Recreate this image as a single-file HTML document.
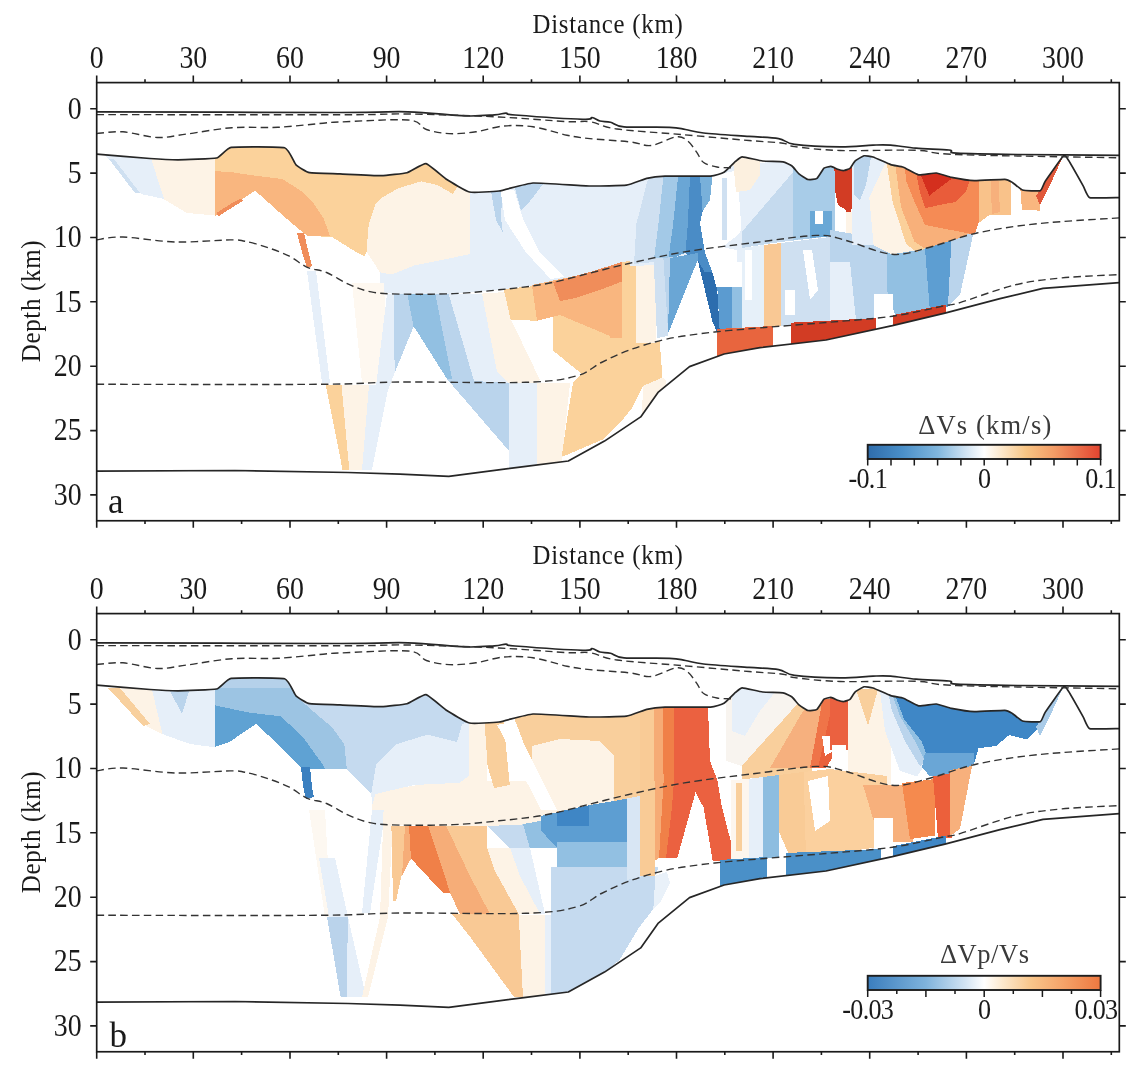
<!DOCTYPE html>
<html><head><meta charset="utf-8"><style>html,body{margin:0;padding:0;background:#fff}svg{display:block}</style></head>
<body><svg width="1144" height="1074" viewBox="0 0 1144 1074">
<rect width="1144" height="1074" fill="#fff"/>
<g><defs><clipPath id="clipa"><path d="M96.7,154.1C100.3,154.4 144.6,158.1 150.0,158.5C155.4,158.9 173.6,159.8 178.0,159.8C182.4,159.8 213.0,158.8 216.5,158.0C220.0,157.2 226.7,148.0 231.2,147.3C235.7,146.6 280.3,146.5 284.6,147.7C288.9,148.9 294.3,163.1 296.0,164.8C297.7,166.5 306.7,172.1 309.6,172.7C312.5,173.3 335.2,173.7 340.0,173.9C344.8,174.1 376.5,175.8 381.0,175.7C385.5,175.6 404.0,173.5 407.0,172.7C410.0,171.9 423.3,163.1 426.0,163.6C428.7,164.1 443.9,177.6 446.8,179.5C449.7,181.4 466.0,191.2 469.5,192.0C473.0,192.8 494.8,191.6 499.0,191.0C503.2,190.4 526.9,183.3 533.0,183.0C539.1,182.7 583.8,185.9 590.0,186.0C596.2,186.1 622.6,185.7 626.4,185.2C630.2,184.7 644.2,179.0 646.8,178.4C649.4,177.8 660.8,176.3 665.0,176.1C669.2,175.9 706.6,176.4 710.5,176.1C714.4,175.8 722.3,173.3 724.0,172.3C725.7,171.3 734.3,162.4 735.5,161.4C736.7,160.4 740.5,156.8 742.3,156.8C744.1,156.8 760.0,160.7 762.7,161.0C765.4,161.3 781.0,161.5 783.0,161.8C785.0,162.1 790.9,165.2 792.0,166.0C793.1,166.8 797.9,173.0 799.0,173.9C800.1,174.8 806.8,179.2 808.0,179.5C809.2,179.8 815.9,179.2 817.0,178.4C818.1,177.6 823.1,169.0 824.0,168.2C824.9,167.4 830.1,166.3 831.0,166.4C831.9,166.5 836.8,169.0 837.7,169.3C838.6,169.6 843.2,170.6 844.0,170.5C844.8,170.4 849.3,169.0 850.0,168.4C850.7,167.8 854.3,161.6 855.2,160.8C856.1,160.0 862.8,156.1 864.0,155.8C865.2,155.5 871.2,156.4 873.0,157.0C874.8,157.6 888.7,163.9 890.7,164.6C892.7,165.3 901.5,166.5 903.4,167.2C905.3,167.9 916.4,174.4 918.6,174.8C920.8,175.2 934.1,172.8 936.3,173.0C938.5,173.2 949.0,176.8 951.5,177.3C954.0,177.8 970.7,180.5 974.3,180.6C977.9,180.7 1002.3,179.2 1004.8,179.3C1007.3,179.4 1011.2,181.7 1012.4,182.4C1013.6,183.1 1020.6,189.4 1022.5,190.0C1024.4,190.6 1038.8,191.3 1040.3,190.7C1041.8,190.1 1043.8,183.4 1045.3,181.1C1046.8,178.8 1061.6,157.9 1063.0,156.3C1064.4,154.7 1066.6,157.7 1066.9,157.8L1066.9,285.0L1043.0,288.3C1043.0,288.3 1000.0,298.6 1000.0,298.6C1000.0,298.6 944.9,313.1 944.9,313.1C944.9,313.1 892.4,325.7 892.4,325.7C892.4,325.7 826.0,340.0 826.0,340.0C826.0,340.0 760.0,347.7 760.0,347.7C760.0,347.7 724.1,354.0 724.1,354.0C724.1,354.0 689.5,366.6 689.5,366.6C689.5,366.6 658.0,392.4 658.0,392.4C658.0,392.4 640.7,416.9 640.7,416.9C640.7,416.9 604.5,441.1 604.5,441.1C604.5,441.1 568.3,461.0 568.3,461.0C568.3,461.0 525.9,466.3 525.9,466.3C525.9,466.3 448.8,476.4 448.8,476.4C448.8,476.4 400.0,474.2 400.0,474.2C400.0,474.2 348.0,472.5 348.0,472.5C348.0,472.5 235.0,470.5 235.0,470.5C235.0,470.5 96.7,471.2 96.7,471.2Z"/></clipPath>
<linearGradient id="grada" x1="0" x2="1" y1="0" y2="0">
<stop offset="0" stop-color="#2e6cab"/>
<stop offset="0.15" stop-color="#4a8fc8"/>
<stop offset="0.3" stop-color="#80b6dd"/>
<stop offset="0.42" stop-color="#cfe2f2"/>
<stop offset="0.5" stop-color="#ffffff"/>
<stop offset="0.58" stop-color="#fce6c8"/>
<stop offset="0.68" stop-color="#f8c584"/>
<stop offset="0.8" stop-color="#f39c66"/>
<stop offset="1" stop-color="#e2432f"/>
</linearGradient></defs>
<g clip-path="url(#clipa)" shape-rendering="crispEdges">
<polygon fill="#e6eff9" points="100.0,150.0 148.3,150.0 166.5,199.5 141.0,194.0"/>
<polygon fill="#cfe0f1" points="109.0,159.0 114.0,159.0 140.0,193.0 135.0,193.0"/>
<polygon fill="#fdf3e6" points="148.3,150.0 178.0,150.0 214.5,150.0 214.5,215.5 187.0,213.0 164.2,199.5"/>
<polygon fill="#fbd29b" points="214.5,140.0 458.0,140.0 458.0,186.0 452.8,193.9 436.9,184.8 421.0,181.4 398.3,188.2 382.4,197.3 375.5,204.1 368.7,224.5 366.5,251.8 364.2,256.4 356.0,252.0 332.0,237.0 307.4,235.9 296.0,226.8 277.8,210.9 255.0,190.5 241.5,199.5 232.4,205.2 216.5,215.5 214.5,215.5"/>
<polygon fill="#f9b67f" points="214.5,171.1 232.4,172.3 255.0,175.7 282.4,179.1 300.5,190.5 314.2,204.1 323.3,217.7 330.0,236.0 307.4,235.9 296.0,226.8 277.8,210.9 255.0,190.5 241.5,199.5 232.4,205.2 216.5,215.5 214.5,215.5"/>
<polygon fill="#f08d5a" points="216.5,213.0 232.0,203.0 241.0,198.5 243.0,201.0 233.0,207.0 218.0,216.5"/>
<polygon fill="#f08d5a" points="297.0,233.0 304.0,233.0 308.0,250.0 312.0,266.0 307.0,268.0 302.0,252.0"/>
<polygon fill="#fdf3e6" points="375.5,204.1 382.4,197.3 398.3,188.2 421.0,181.4 436.9,184.8 452.8,193.9 458.0,186.0 470.0,186.0 470.0,254.1 448.3,258.6 414.2,265.5 391.5,274.5 380.0,272.3 366.5,251.8 368.7,224.5"/>
<polygon fill="#e6eff9" points="469.5,180.0 650.0,170.0 650.0,265.0 627.8,263.7 590.0,273.1 544.5,284.1 499.0,289.8 453.6,293.6 392.3,293.9 380.0,291.0 380.0,272.3 391.5,274.5 414.2,265.5 448.3,258.6 470.0,254.1"/>
<polygon fill="#bad4ec" points="490.8,190.0 505.1,190.0 500.5,213.2 502.8,232.5 496.0,220.0"/>
<polygon fill="#bad4ec" points="514.2,185.0 546.0,180.0 527.8,204.1 521.0,210.9"/>
<polygon fill="#ffffff" points="500.5,190.0 514.2,190.0 523.3,220.0 539.2,251.8 564.2,276.8 550.5,279.0 525.5,251.8 505.0,220.0"/>
<polygon fill="#e6eff9" points="307.0,271.0 316.0,271.0 330.0,383.0 322.0,383.0"/>
<polygon fill="#fef8f0" points="352.0,283.0 384.0,283.0 388.0,383.0 362.0,383.0"/>
<polygon fill="#fbd29b" points="325.8,385.3 341.5,385.3 349.3,470.0 342.6,470.0"/>
<polygon fill="#fdf3e6" points="341.5,385.3 369.0,385.3 362.0,470.0 349.3,470.0"/>
<polygon fill="#e6eff9" points="369.0,385.3 388.0,385.3 372.0,470.0 362.0,470.0"/>
<polygon fill="#e6eff9" points="387.0,294.0 396.0,294.0 394.7,372.8 388.0,390.0 372.0,470.0 366.0,470.0"/>
<polygon fill="#bad4ec" points="393.6,294.0 407.3,294.0 413.6,326.6 394.7,372.8"/>
<polygon fill="#92c0e2" points="407.3,294.0 421.0,294.0 421.0,320.0 413.6,327.0"/>
<polygon fill="#6aa8d6" points="420.0,294.0 423.0,294.0 423.0,330.0 420.0,330.0"/>
<polygon fill="#92c0e2" points="421.0,294.0 435.3,294.0 452.0,379.0 447.0,379.0 413.5,326.0"/>
<polygon fill="#bad4ec" points="435.3,294.0 448.7,294.0 474.0,381.0 509.0,383.0 509.0,451.0 447.0,379.0 452.0,379.0"/>
<polygon fill="#e6eff9" points="448.7,294.0 482.0,293.6 497.0,371.9 508.7,383.0 536.6,383.0 536.6,470.0 509.0,470.0 509.0,383.0 474.0,381.0"/>
<polygon fill="#fdf3e6" points="482.0,293.6 505.0,292.0 510.7,318.9 540.0,380.0 536.6,383.0 570.0,383.0 565.0,430.0 562.0,462.0 536.6,465.0 536.6,383.0 508.7,383.0 497.0,371.9"/>
<polygon fill="#ffffff" points="510.7,318.9 556.7,315.4 553.2,350.7 581.5,373.7 573.0,383.0 540.0,380.0"/>
<polygon fill="#fbd29b" points="503.7,289.0 535.0,286.0 537.0,320.7 510.7,320.0"/>
<polygon fill="#fbd29b" points="553.0,315.0 626.0,300.0 626.0,341.0 659.7,341.0 662.5,377.5 643.0,385.9 631.7,408.3 620.6,422.2 603.8,439.0 564.6,455.8 561.8,455.8 567.4,416.6 573.0,383.0 581.5,373.7 553.2,350.7"/>
<polygon fill="#f9b67f" points="532.0,285.0 622.0,266.0 622.0,334.6 610.0,336.0 560.0,315.0 537.0,320.7"/>
<polygon fill="#f9b67f" points="610.0,300.0 622.0,300.0 622.0,338.0 610.0,338.0"/>
<polygon fill="#f08d5a" points="553.0,282.0 590.0,272.0 622.0,262.0 622.0,281.5 600.0,290.0 575.0,298.0 560.0,301.0"/>
<polygon fill="#fbd29b" points="622.0,262.0 636.0,260.0 636.0,343.0 622.0,343.0"/>
<polygon fill="#fdf3e6" points="636.0,258.0 655.6,256.0 655.6,343.0 636.0,343.0"/>
<polygon fill="#fdf3e6" points="662.5,377.5 666.0,380.0 666.0,470.0 640.0,470.0 643.0,385.9"/>
<polygon fill="#e6eff9" points="630.0,170.0 745.0,165.0 745.0,262.0 630.0,266.0"/>
<polygon fill="#cfe0f1" points="648.7,176.0 663.4,176.0 658.5,223.4 653.6,262.0 634.0,264.0 636.5,223.4"/>
<polygon fill="#a3c9e7" points="663.4,176.0 678.1,176.0 673.2,223.4 668.3,260.0 653.6,262.0 658.5,223.4"/>
<polygon fill="#6aa6d5" points="678.1,176.0 690.0,176.0 687.9,223.4 685.4,252.8 668.3,260.0 673.2,223.4"/>
<polygon fill="#4a8cc6" points="690.0,176.0 700.0,176.0 702.6,211.2 700.1,223.4 705.0,252.8 712.4,272.4 705.0,272.4 697.7,260.1 690.0,258.0 685.4,252.8 687.9,223.4"/>
<polygon fill="#78b0da" points="700.0,176.0 712.4,176.0 710.0,200.0 702.6,211.2"/>
<polygon fill="#ffffff" points="712.4,176.0 738.0,170.0 741.7,230.0 736.8,236.0 722.2,247.0 736.8,250.0 736.8,287.0 717.3,287.0 712.4,272.4 705.0,252.8 700.1,223.4 702.6,211.2 710.0,200.0"/>
<polygon fill="#cfe0f1" points="722.2,178.0 727.0,178.0 727.0,240.0 722.2,240.0"/>
<polygon fill="#e6eff9" points="736.8,165.0 793.1,160.0 793.1,172.0 741.7,232.0"/>
<polygon fill="#fcf0df" points="732.0,150.0 760.0,150.0 760.0,175.0 750.0,190.0 736.0,192.0"/>
<polygon fill="#c5daee" points="741.7,232.0 793.1,172.0 834.7,160.0 834.7,236.0 780.0,242.0 741.7,248.0"/>
<polygon fill="#a8cce8" points="793.1,165.0 834.7,160.0 834.7,236.0 793.1,240.0"/>
<polygon fill="#6aa8d6" points="810.3,211.0 832.3,211.0 832.3,236.0 810.3,238.0"/>
<polygon fill="#ffffff" points="815.2,211.0 822.5,211.0 822.5,224.0 815.2,224.0"/>
<polygon fill="#cfe0f1" points="653.6,258.0 663.4,258.0 668.3,336.0 657.0,338.0"/>
<polygon fill="#bad4ec" points="663.4,258.0 673.2,257.0 670.0,300.0 668.3,336.0"/>
<polygon fill="#6aa6d5" points="670.0,258.0 698.0,253.0 697.7,260.1 672.0,325.0 668.0,333.0"/>
<polygon fill="#ffffff" points="697.7,260.1 712.4,321.3 717.3,333.0 668.3,333.0"/>
<polygon fill="#2c6dae" points="697.7,260.1 705.0,272.4 712.4,272.4 717.3,290.0 719.7,331.0 717.3,333.0 712.4,321.3"/>
<polygon fill="#5b9bd0" points="717.3,287.0 732.0,287.0 732.0,330.0 719.7,331.0"/>
<polygon fill="#92c0e2" points="732.0,287.0 741.7,287.0 741.7,329.0 732.0,330.0"/>
<polygon fill="#e6f0f9" points="741.7,248.0 763.8,245.0 763.8,328.0 741.7,329.0"/>
<polygon fill="#ffffff" points="745.0,250.0 752.0,250.0 752.0,300.0 745.0,300.0"/>
<polygon fill="#f9c894" points="763.8,245.0 780.9,243.0 780.9,326.0 763.8,328.0"/>
<polygon fill="#cfe0f1" points="780.9,243.0 829.8,237.0 829.8,322.0 780.9,326.0"/>
<polygon fill="#ffffff" points="803.0,250.0 812.0,250.0 818.0,290.0 810.0,300.0"/>
<polygon fill="#ffffff" points="785.0,290.0 795.0,290.0 795.0,315.0 785.0,315.0"/>
<polygon fill="#d23c24" points="834.4,166.0 852.0,166.0 852.0,190.0 851.0,228.0 847.0,228.0 846.0,210.0 838.0,205.0 835.0,190.0"/>
<polygon fill="#fdf3e6" points="846.0,212.0 852.0,212.0 856.0,237.0 846.0,237.0"/>
<polygon fill="#bad4ec" points="830.0,230.0 891.0,240.0 891.0,318.0 830.0,322.0"/>
<polygon fill="#e6eff9" points="830.0,262.0 850.0,262.0 856.0,320.0 830.0,322.0"/>
<polygon fill="#92c0e2" points="887.0,240.0 924.0,236.0 930.0,312.0 896.0,318.0 887.0,290.0"/>
<polygon fill="#5d9ed2" points="924.0,236.0 955.0,230.0 950.0,306.0 930.0,312.0"/>
<polygon fill="#bad4ec" points="952.0,230.0 975.0,226.0 960.0,295.0 948.0,306.0"/>
<polygon fill="#ffffff" points="873.7,293.6 893.4,293.6 893.4,320.0 873.7,320.0"/>
<polygon fill="#e6eff9" points="852.0,150.0 895.0,150.0 895.0,245.0 852.0,245.0"/>
<polygon fill="#bad4ec" points="854.0,155.0 872.0,152.0 866.0,185.0 860.0,200.0 854.0,195.0"/>
<polygon fill="#fdf3e6" points="869.3,197.4 886.8,160.0 892.6,202.0 906.2,244.0 916.7,250.2 892.0,254.3 873.7,245.5"/>
<polygon fill="#fbd09a" points="886.3,160.0 894.7,160.0 901.0,207.2 914.6,241.8 924.0,246.0 925.0,248.5 916.7,252.0 906.2,244.0 892.6,202.0"/>
<polygon fill="#f8b07a" points="894.7,160.0 904.1,160.0 906.2,181.0 914.6,202.0 925.1,225.0 969.2,233.5 960.0,238.0 953.5,239.7 930.0,247.2 924.0,248.0 914.6,241.8 901.0,207.2"/>
<polygon fill="#f58b55" points="904.1,160.0 978.6,165.0 978.6,223.0 975.0,234.0 969.2,233.5 925.1,225.0 914.6,202.0 906.2,181.0"/>
<polygon fill="#e95c3a" points="914.6,165.0 953.5,170.0 969.2,174.0 969.2,182.0 966.0,191.5 955.6,202.0 938.8,205.1 925.1,208.3 919.9,191.5"/>
<polygon fill="#d42f1e" points="917.8,168.0 938.8,168.0 951.4,174.0 951.4,178.9 929.3,195.7"/>
<polygon fill="#f9c28a" points="978.6,170.0 1011.4,170.0 1011.4,214.6 990.0,214.6 978.6,223.0"/>
<polygon fill="#f7b07c" points="990.0,170.0 998.0,170.0 1000.0,212.0 992.0,214.0"/>
<polygon fill="#f9b67f" points="1020.0,185.0 1040.0,185.0 1040.0,210.6 1022.0,210.0"/>
<polygon fill="#e0583a" points="1036.0,196.0 1055.0,167.0 1062.0,150.0 1066.0,150.0 1050.0,185.0 1040.0,205.0"/>
<polygon fill="#e8653e" points="717.0,329.0 772.7,326.0 772.7,360.0 717.0,360.0"/>
<polygon fill="#d23c24" points="791.0,322.7 876.0,318.0 876.0,345.0 791.0,345.0"/>
<polygon fill="#d23c24" points="893.0,315.0 946.0,304.5 946.0,314.0 893.0,327.0"/>
</g>
<g fill="none" stroke="#262626" stroke-width="1.7" stroke-linejoin="round">
<path d="M96.7,111.8C137.2,111.9 288.1,112.5 340.0,112.5C391.9,112.5 387.2,111.2 408.0,111.8C428.8,112.4 450.6,115.4 465.0,115.9C479.4,116.4 487.7,115.2 494.5,114.8C501.3,114.3 502.6,113.2 506.0,113.2C509.4,113.2 502.2,114.0 515.0,115.0C527.8,116.0 570.2,118.9 583.0,119.3C595.8,119.7 589.2,117.2 592.0,117.5C594.8,117.8 596.9,120.2 600.0,121.0C603.1,121.8 606.5,121.3 610.5,122.3C614.5,123.3 614.2,126.0 624.0,126.8C633.8,127.6 659.2,126.8 669.5,127.3C679.8,127.8 679.8,128.6 685.5,129.5C691.2,130.4 693.0,131.8 703.6,133.0C714.2,134.2 736.5,135.5 749.0,136.4C761.5,137.3 771.0,137.3 778.6,138.6C786.2,139.9 784.3,142.9 794.5,144.3C804.7,145.7 826.9,146.8 840.0,146.9C853.1,147.0 864.5,145.4 873.0,145.1C881.5,144.8 883.5,144.6 890.7,145.1C897.9,145.6 906.3,147.4 916.0,148.2C925.7,149.0 942.2,149.2 949.0,150.0C955.8,150.8 945.2,152.4 956.6,153.2C968.0,153.9 990.3,154.2 1017.4,154.5C1044.5,154.8 1102.3,155.2 1119.3,155.3"/>
<path d="M96.7,154.1C100.3,154.4 144.6,158.1 150.0,158.5C155.4,158.9 173.6,159.8 178.0,159.8C182.4,159.8 213.0,158.8 216.5,158.0C220.0,157.2 226.7,148.0 231.2,147.3C235.7,146.6 280.3,146.5 284.6,147.7C288.9,148.9 294.3,163.1 296.0,164.8C297.7,166.5 306.7,172.1 309.6,172.7C312.5,173.3 335.2,173.7 340.0,173.9C344.8,174.1 376.5,175.8 381.0,175.7C385.5,175.6 404.0,173.5 407.0,172.7C410.0,171.9 423.3,163.1 426.0,163.6C428.7,164.1 443.9,177.6 446.8,179.5C449.7,181.4 466.0,191.2 469.5,192.0C473.0,192.8 494.8,191.6 499.0,191.0C503.2,190.4 526.9,183.3 533.0,183.0C539.1,182.7 583.8,185.9 590.0,186.0C596.2,186.1 622.6,185.7 626.4,185.2C630.2,184.7 644.2,179.0 646.8,178.4C649.4,177.8 660.8,176.3 665.0,176.1C669.2,175.9 706.6,176.4 710.5,176.1C714.4,175.8 722.3,173.3 724.0,172.3C725.7,171.3 734.3,162.4 735.5,161.4C736.7,160.4 740.5,156.8 742.3,156.8C744.1,156.8 760.0,160.7 762.7,161.0C765.4,161.3 781.0,161.5 783.0,161.8C785.0,162.1 790.9,165.2 792.0,166.0C793.1,166.8 797.9,173.0 799.0,173.9C800.1,174.8 806.8,179.2 808.0,179.5C809.2,179.8 815.9,179.2 817.0,178.4C818.1,177.6 823.1,169.0 824.0,168.2C824.9,167.4 830.1,166.3 831.0,166.4C831.9,166.5 836.8,169.0 837.7,169.3C838.6,169.6 843.2,170.6 844.0,170.5C844.8,170.4 849.3,169.0 850.0,168.4C850.7,167.8 854.3,161.6 855.2,160.8C856.1,160.0 862.8,156.1 864.0,155.8C865.2,155.5 871.2,156.4 873.0,157.0C874.8,157.6 888.7,163.9 890.7,164.6C892.7,165.3 901.5,166.5 903.4,167.2C905.3,167.9 916.4,174.4 918.6,174.8C920.8,175.2 934.1,172.8 936.3,173.0C938.5,173.2 949.0,176.8 951.5,177.3C954.0,177.8 970.7,180.5 974.3,180.6C977.9,180.7 1002.3,179.2 1004.8,179.3C1007.3,179.4 1011.2,181.7 1012.4,182.4C1013.6,183.1 1020.6,189.4 1022.5,190.0C1024.4,190.6 1038.8,191.3 1040.3,190.7C1041.8,190.1 1043.8,183.4 1045.3,181.1C1046.8,178.8 1061.6,157.9 1063.0,156.3C1064.4,154.7 1065.5,155.8 1066.9,157.8C1068.3,159.8 1081.8,183.5 1083.3,186.2C1084.8,188.9 1087.3,196.8 1089.7,197.6C1092.1,198.4 1117.3,197.6 1119.3,197.6"/>
<path d="M96.7,471.2C96.7,471.2 235.0,470.5 235.0,470.5C235.0,470.5 348.0,472.5 348.0,472.5C348.0,472.5 400.0,474.2 400.0,474.2C400.0,474.2 448.8,476.4 448.8,476.4C448.8,476.4 525.9,466.3 525.9,466.3C525.9,466.3 568.3,461.0 568.3,461.0C568.3,461.0 604.5,441.1 604.5,441.1C604.5,441.1 640.7,416.9 640.7,416.9C640.7,416.9 658.0,392.4 658.0,392.4C658.0,392.4 689.5,366.6 689.5,366.6C689.5,366.6 724.1,354.0 724.1,354.0C724.1,354.0 760.0,347.7 760.0,347.7C760.0,347.7 826.0,340.0 826.0,340.0C826.0,340.0 892.4,325.7 892.4,325.7C892.4,325.7 944.9,313.1 944.9,313.1C944.9,313.1 1000.0,298.6 1000.0,298.6C1000.0,298.6 1043.0,288.3 1043.0,288.3C1043.0,288.3 1119.3,282.6 1119.3,282.6"/>
</g>
<g fill="none" stroke="#333" stroke-width="1.4" stroke-dasharray="7.5 4.3">
<path d="M96.7,114.6C137.2,114.6 288.1,114.9 340.0,114.8C391.9,114.7 381.5,113.6 408.0,114.0C434.5,114.4 472.5,115.7 499.0,117.0C525.5,118.3 551.8,120.8 567.0,121.6C582.2,122.4 581.7,120.6 590.0,121.8C598.3,123.0 601.8,126.9 617.0,129.0C632.2,131.1 659.0,132.6 681.0,134.5C703.0,136.4 732.0,139.1 749.0,140.5C766.0,141.9 775.4,142.2 783.0,143.2C790.6,144.2 785.0,145.4 794.5,146.6C804.0,147.8 819.8,149.9 840.0,150.5C860.2,151.1 896.6,149.6 916.0,150.3C935.4,151.0 922.7,153.2 956.6,154.5C990.5,155.8 1092.2,157.2 1119.3,157.8"/>
<path d="M96.7,133.6C101.1,133.3 112.9,131.2 123.0,131.8C133.1,132.5 146.7,137.1 157.4,137.5C168.1,137.9 174.6,135.6 187.0,134.0C199.4,132.4 216.8,128.8 232.0,127.7C247.2,126.6 262.8,128.1 278.0,127.3C293.2,126.5 312.7,124.1 323.0,123.2C333.3,122.3 325.8,122.5 340.0,122.0C354.2,121.5 393.6,118.8 408.0,120.0C422.4,121.2 419.6,127.2 426.4,129.5C433.2,131.8 440.7,133.2 449.0,133.6C457.3,134.0 466.9,133.1 476.0,131.8C485.1,130.5 494.1,126.8 503.6,126.0C513.1,125.2 522.4,125.3 533.0,126.8C543.6,128.3 557.5,133.2 567.0,135.2C576.5,137.2 579.3,137.5 590.0,138.6C600.7,139.7 620.8,140.8 631.0,142.0C641.2,143.2 643.8,146.4 651.4,145.5C659.0,144.6 670.3,137.6 676.4,136.8C682.5,136.1 684.3,138.4 687.7,141.0C691.1,143.6 694.1,148.7 696.8,152.3C699.4,155.9 700.2,160.1 703.6,162.5C707.0,164.9 712.4,166.1 717.0,167.0C721.6,167.9 728.7,167.6 731.0,167.7"/>
<path d="M96.7,239.8C101.1,239.3 109.9,236.6 123.0,237.0C136.1,237.4 157.7,241.5 175.5,242.0C193.3,242.5 218.4,240.0 230.0,239.9C241.6,239.8 238.7,240.1 244.9,241.3C251.1,242.5 259.7,244.8 267.1,247.3C274.5,249.8 282.7,252.9 289.4,256.2C296.1,259.5 301.1,264.6 307.3,267.3C313.5,270.0 319.7,269.6 326.6,272.5C333.5,275.4 341.5,281.2 348.9,284.4C356.3,287.6 362.7,290.3 371.2,291.9C379.7,293.5 386.3,293.8 400.0,294.1C413.7,294.4 437.1,294.3 453.6,293.6C470.1,292.9 483.9,291.4 499.0,289.8C514.1,288.2 529.3,286.9 544.5,284.1C559.7,281.3 576.1,276.5 590.0,273.1C603.9,269.7 612.1,267.2 627.8,263.7C643.5,260.2 663.2,255.4 684.4,251.9C705.6,248.4 733.2,245.2 755.2,242.5C777.2,239.8 801.6,235.8 816.5,235.4C831.4,235.0 832.2,236.9 844.8,240.1C857.4,243.2 877.8,253.1 892.0,254.3C906.2,255.5 915.6,250.8 929.8,247.2C944.0,243.6 958.9,236.9 977.0,233.0C995.1,229.1 1014.6,226.1 1038.3,223.6C1062.0,221.1 1105.8,218.8 1119.3,217.9"/>
<path d="M96.7,384.3C133.9,384.3 269.2,384.7 319.8,384.3C370.4,383.9 365.6,382.3 400.0,382.0C434.4,381.7 496.5,383.3 525.9,382.3C555.3,381.3 563.6,379.3 576.2,376.0C588.8,372.7 592.5,366.9 601.4,362.5C610.3,358.1 618.7,353.8 629.7,349.9C640.7,346.0 653.3,341.9 667.5,338.9C681.7,335.9 699.3,333.8 714.7,332.0C730.1,330.2 741.5,329.5 760.0,327.9C778.5,326.3 803.9,324.4 826.0,322.5C848.1,320.6 872.6,319.0 892.4,316.2C912.2,313.4 933.6,308.0 944.9,305.7C956.2,303.4 948.4,306.1 960.0,302.6C971.6,299.2 997.7,289.1 1014.7,285.0C1031.7,280.9 1044.5,279.6 1061.9,277.9C1079.3,276.2 1109.7,275.2 1119.3,274.6"/>
</g>
<rect x="96.7" y="82.6" width="1022.5999999999999" height="438.15" fill="none" stroke="#1a1a1a" stroke-width="1.7"/>
<path d="M96.7,82.6v-7 M96.7,520.75v7 M145.0,82.6v-3.3 M145.0,520.75v3.3 M193.3,82.6v-7 M193.3,520.75v7 M241.6,82.6v-3.3 M241.6,520.75v3.3 M290.0,82.6v-7 M290.0,520.75v7 M338.3,82.6v-3.3 M338.3,520.75v3.3 M386.6,82.6v-7 M386.6,520.75v7 M434.9,82.6v-3.3 M434.9,520.75v3.3 M483.2,82.6v-7 M483.2,520.75v7 M531.5,82.6v-3.3 M531.5,520.75v3.3 M579.9,82.6v-7 M579.9,520.75v7 M628.2,82.6v-3.3 M628.2,520.75v3.3 M676.5,82.6v-7 M676.5,520.75v7 M724.8,82.6v-3.3 M724.8,520.75v3.3 M773.1,82.6v-7 M773.1,520.75v7 M821.4,82.6v-3.3 M821.4,520.75v3.3 M869.7,82.6v-7 M869.7,520.75v7 M918.1,82.6v-3.3 M918.1,520.75v3.3 M966.4,82.6v-7 M966.4,520.75v7 M1014.7,82.6v-3.3 M1014.7,520.75v3.3 M1063.0,82.6v-7 M1063.0,520.75v7 M1111.3,82.6v-3.3 M1111.3,520.75v3.3 M96.7,108.8h-6.5 M1119.3,108.8h6.5 M96.7,173.1h-6.5 M1119.3,173.1h6.5 M96.7,237.5h-6.5 M1119.3,237.5h6.5 M96.7,301.8h-6.5 M1119.3,301.8h6.5 M96.7,366.2h-6.5 M1119.3,366.2h6.5 M96.7,430.6h-6.5 M1119.3,430.6h6.5 M96.7,494.9h-6.5 M1119.3,494.9h6.5" stroke="#1a1a1a" stroke-width="1.6" fill="none"/>
<g font-family="Liberation Serif, serif" font-size="32" fill="#1a1a1a" text-anchor="middle" transform="scale(0.87,1)">
<text x="111.1" y="68.3">0</text>
<text x="222.2" y="68.3">30</text>
<text x="333.3" y="68.3">60</text>
<text x="444.4" y="68.3">90</text>
<text x="555.4" y="68.3">120</text>
<text x="666.5" y="68.3">150</text>
<text x="777.6" y="68.3">180</text>
<text x="888.6" y="68.3">210</text>
<text x="999.7" y="68.3">240</text>
<text x="1110.8" y="68.3">270</text>
<text x="1221.8" y="68.3">300</text>
</g>
<g font-family="Liberation Serif, serif" font-size="32" fill="#1a1a1a" text-anchor="end" transform="scale(0.87,1)">
<text x="93.8" y="118.6">0</text>
<text x="93.8" y="182.9">5</text>
<text x="93.8" y="247.3">10</text>
<text x="93.8" y="311.6">15</text>
<text x="93.8" y="376.0">20</text>
<text x="93.8" y="440.4">25</text>
<text x="93.8" y="504.7">30</text>
</g>
<text font-family="Liberation Serif, serif" font-size="27" fill="#1a1a1a" text-anchor="middle" letter-spacing="0.8" transform="translate(608,33.2) scale(0.92,1)">Distance (km)</text>
<text font-family="Liberation Serif, serif" font-size="27" fill="#1a1a1a" text-anchor="middle" letter-spacing="0.8" transform="translate(39.5,301) rotate(-90) scale(0.92,1)">Depth (km)</text>
<text font-family="Liberation Serif, serif" font-size="35" fill="#1a1a1a" x="108" y="512.7">a</text>
<rect x="867.7" y="444.8" width="232.9" height="14.2" fill="url(#grada)" stroke="#1e1e1e" stroke-width="1.9"/>
<path d="M867.7,459v6.6 M891.0,459v6.6 M914.3,459v6.6 M937.6,459v6.6 M960.9,459v6.6 M984.2,459v6.6 M1007.4,459v6.6 M1030.7,459v6.6 M1054.0,459v6.6 M1077.3,459v6.6 M1100.6,459v6.6" stroke="#1a1a1a" stroke-width="1.5" fill="none"/>
<g font-family="Liberation Serif, serif" font-size="30" fill="#1a1a1a" text-anchor="middle" letter-spacing="-0.8" transform="scale(0.87,1)">
<text x="997.4" y="488.3">-0.1</text>
<text x="1131.2" y="488.3">0</text>
<text x="1265.1" y="488.3">0.1</text>
</g>
<text font-family="Liberation Serif, serif" font-size="26.5" fill="#3a3a3a" text-anchor="middle" letter-spacing="1.2" x="985.3" y="433.6">ΔVs (km/s)</text></g>
<g transform="translate(0,531)"><defs><clipPath id="clipb"><path d="M96.7,154.1C100.3,154.4 144.6,158.1 150.0,158.5C155.4,158.9 173.6,159.8 178.0,159.8C182.4,159.8 213.0,158.8 216.5,158.0C220.0,157.2 226.7,148.0 231.2,147.3C235.7,146.6 280.3,146.5 284.6,147.7C288.9,148.9 294.3,163.1 296.0,164.8C297.7,166.5 306.7,172.1 309.6,172.7C312.5,173.3 335.2,173.7 340.0,173.9C344.8,174.1 376.5,175.8 381.0,175.7C385.5,175.6 404.0,173.5 407.0,172.7C410.0,171.9 423.3,163.1 426.0,163.6C428.7,164.1 443.9,177.6 446.8,179.5C449.7,181.4 466.0,191.2 469.5,192.0C473.0,192.8 494.8,191.6 499.0,191.0C503.2,190.4 526.9,183.3 533.0,183.0C539.1,182.7 583.8,185.9 590.0,186.0C596.2,186.1 622.6,185.7 626.4,185.2C630.2,184.7 644.2,179.0 646.8,178.4C649.4,177.8 660.8,176.3 665.0,176.1C669.2,175.9 706.6,176.4 710.5,176.1C714.4,175.8 722.3,173.3 724.0,172.3C725.7,171.3 734.3,162.4 735.5,161.4C736.7,160.4 740.5,156.8 742.3,156.8C744.1,156.8 760.0,160.7 762.7,161.0C765.4,161.3 781.0,161.5 783.0,161.8C785.0,162.1 790.9,165.2 792.0,166.0C793.1,166.8 797.9,173.0 799.0,173.9C800.1,174.8 806.8,179.2 808.0,179.5C809.2,179.8 815.9,179.2 817.0,178.4C818.1,177.6 823.1,169.0 824.0,168.2C824.9,167.4 830.1,166.3 831.0,166.4C831.9,166.5 836.8,169.0 837.7,169.3C838.6,169.6 843.2,170.6 844.0,170.5C844.8,170.4 849.3,169.0 850.0,168.4C850.7,167.8 854.3,161.6 855.2,160.8C856.1,160.0 862.8,156.1 864.0,155.8C865.2,155.5 871.2,156.4 873.0,157.0C874.8,157.6 888.7,163.9 890.7,164.6C892.7,165.3 901.5,166.5 903.4,167.2C905.3,167.9 916.4,174.4 918.6,174.8C920.8,175.2 934.1,172.8 936.3,173.0C938.5,173.2 949.0,176.8 951.5,177.3C954.0,177.8 970.7,180.5 974.3,180.6C977.9,180.7 1002.3,179.2 1004.8,179.3C1007.3,179.4 1011.2,181.7 1012.4,182.4C1013.6,183.1 1020.6,189.4 1022.5,190.0C1024.4,190.6 1038.8,191.3 1040.3,190.7C1041.8,190.1 1043.8,183.4 1045.3,181.1C1046.8,178.8 1061.6,157.9 1063.0,156.3C1064.4,154.7 1066.6,157.7 1066.9,157.8L1066.9,285.0L1043.0,288.3C1043.0,288.3 1000.0,298.6 1000.0,298.6C1000.0,298.6 944.9,313.1 944.9,313.1C944.9,313.1 892.4,325.7 892.4,325.7C892.4,325.7 826.0,340.0 826.0,340.0C826.0,340.0 760.0,347.7 760.0,347.7C760.0,347.7 724.1,354.0 724.1,354.0C724.1,354.0 689.5,366.6 689.5,366.6C689.5,366.6 658.0,392.4 658.0,392.4C658.0,392.4 640.7,416.9 640.7,416.9C640.7,416.9 604.5,441.1 604.5,441.1C604.5,441.1 568.3,461.0 568.3,461.0C568.3,461.0 525.9,466.3 525.9,466.3C525.9,466.3 448.8,476.4 448.8,476.4C448.8,476.4 400.0,474.2 400.0,474.2C400.0,474.2 348.0,472.5 348.0,472.5C348.0,472.5 235.0,470.5 235.0,470.5C235.0,470.5 96.7,471.2 96.7,471.2Z"/></clipPath>
<linearGradient id="gradb" x1="0" x2="1" y1="0" y2="0">
<stop offset="0" stop-color="#3a7dbd"/>
<stop offset="0.25" stop-color="#7fb3dc"/>
<stop offset="0.42" stop-color="#d3e4f3"/>
<stop offset="0.5" stop-color="#ffffff"/>
<stop offset="0.58" stop-color="#fce8cc"/>
<stop offset="0.7" stop-color="#f8c68b"/>
<stop offset="0.85" stop-color="#f4a066"/>
<stop offset="1" stop-color="#ee7840"/>
</linearGradient></defs>
<g clip-path="url(#clipb)" shape-rendering="crispEdges">
<polygon fill="#e6eff9" points="110.0,150.0 215.6,150.0 215.6,216.4 190.0,213.0 162.4,203.1 145.8,194.8"/>
<polygon fill="#fdf3e6" points="110.0,150.0 150.0,150.0 162.4,203.1 145.8,194.8"/>
<polygon fill="#f8d09e" points="108.0,157.0 120.0,157.0 150.0,193.0 143.0,195.0"/>
<polygon fill="#bad4ec" points="167.4,155.0 190.7,155.0 182.0,183.0"/>
<polygon fill="#c5daef" points="214.5,140.0 470.0,140.0 470.0,193.8 461.9,193.8 457.0,211.0 427.6,203.6 395.8,213.4 376.2,233.0 371.3,262.4 346.8,237.9 322.4,237.9 302.8,237.9 256.3,192.6 229.4,211.0 214.7,215.9"/>
<polygon fill="#9cc4e3" points="214.5,140.0 283.2,140.0 297.9,166.9 317.5,184.0 332.2,196.3 344.4,213.4 346.8,237.9 322.4,237.9 302.8,237.9 256.3,192.6 229.4,211.0 214.7,215.9"/>
<polygon fill="#b5d1ea" points="214.5,140.0 290.0,140.0 290.0,157.0 214.5,157.0"/>
<polygon fill="#5fa2d3" points="214.7,174.3 249.0,181.6 280.8,185.3 302.8,206.0 322.4,233.0 325.0,238.0 302.8,237.9 256.3,192.6 229.4,211.0 214.7,215.9"/>
<polygon fill="#3b80c0" points="301.0,236.0 310.0,236.0 312.0,256.0 314.0,266.0 306.0,268.0 303.0,255.0"/>
<polygon fill="#fdf3e6" points="372.0,294.0 372.0,262.0 468.7,245.0 468.7,190.0 487.0,190.0 487.0,250.0 545.0,250.0 557.0,276.0 557.0,296.0"/>
<polygon fill="#e6eff9" points="371.3,262.4 376.2,233.0 395.8,213.4 427.6,203.6 457.0,211.0 461.9,193.8 468.7,190.0 468.7,245.0 459.6,251.8 414.0,254.0 375.5,263.0 372.0,275.0"/>
<polygon fill="#fdf8f1" points="309.0,279.0 325.0,279.0 331.0,386.0 325.0,386.0"/>
<polygon fill="#e6eff9" points="319.0,327.0 335.0,327.0 348.0,386.0 366.0,466.0 342.0,466.0 329.0,386.0"/>
<polygon fill="#bad3eb" points="327.0,386.0 348.0,386.0 346.5,466.0 340.6,466.0"/>
<polygon fill="#e6eff9" points="372.0,279.0 385.6,279.0 370.0,382.0 362.0,382.0"/>
<polygon fill="#fdf3e6" points="383.6,279.0 393.4,279.0 388.0,386.0 368.0,466.0 362.0,466.0 380.0,386.0"/>
<polygon fill="#f9c995" points="391.4,294.5 405.0,294.5 409.0,310.0 396.0,370.0 393.0,370.0"/>
<polygon fill="#f6ad78" points="405.0,294.5 411.0,294.5 411.0,327.6 402.0,345.0"/>
<polygon fill="#f08048" points="409.0,294.5 428.0,294.5 445.0,345.0 450.0,362.0 443.0,362.0 411.0,327.6"/>
<polygon fill="#f6ad78" points="428.0,294.5 446.0,294.5 470.0,345.0 490.0,383.0 460.0,383.0 450.0,362.0 445.0,345.0"/>
<polygon fill="#f9c995" points="446.0,294.5 487.0,294.5 487.0,317.0 495.0,340.0 518.7,383.0 490.0,383.0 470.0,345.0"/>
<polygon fill="#fdf3e6" points="487.0,317.0 510.0,317.0 520.0,345.0 540.0,383.0 518.7,383.0 495.0,340.0"/>
<polygon fill="#e6eff9" points="510.0,317.0 530.0,317.0 545.0,383.0 540.0,383.0 520.0,345.0"/>
<polygon fill="#f9c995" points="452.0,383.0 518.7,383.5 523.0,466.0 514.0,466.0 470.0,405.7"/>
<polygon fill="#c5daef" points="487.6,295.0 557.3,292.0 557.3,317.3 510.0,317.3"/>
<polygon fill="#92c0e2" points="523.0,293.0 546.0,289.0 557.0,317.3 530.0,317.3"/>
<polygon fill="#fdf3e6" points="518.7,383.7 545.0,383.7 545.0,466.0 523.0,466.0"/>
<polygon fill="#e6eff9" points="545.0,383.7 570.0,383.7 570.0,461.0 545.0,466.0"/>
<polygon fill="#5d9ed2" points="541.4,285.0 590.0,273.0 627.0,263.0 627.0,311.0 590.0,317.3 557.3,317.3 541.4,300.0"/>
<polygon fill="#3f86c5" points="557.3,281.0 589.0,273.0 589.0,295.0 557.3,295.0"/>
<polygon fill="#92c0e2" points="557.3,311.0 627.0,311.0 627.0,349.0 590.0,345.0 557.3,340.0"/>
<polygon fill="#c5daef" points="551.0,336.0 658.6,336.0 655.4,344.7 653.3,378.2 638.6,397.1 619.7,428.6 603.0,443.3 573.6,460.0 570.0,470.0 551.0,470.0"/>
<polygon fill="#e9f1f9" points="655.4,344.7 667.0,341.0 670.0,352.0 660.0,372.0 653.3,378.2"/>
<polygon fill="#d8e6f4" points="627.0,260.0 642.7,258.0 642.7,345.0 627.0,349.0"/>
<polygon fill="#fdf3e6" points="642.7,258.0 653.6,256.0 653.6,345.0 642.7,345.0"/>
<polygon fill="#f9cf9c" points="484.5,190.6 503.5,190.6 509.8,254.0 494.0,257.1 487.6,235.0"/>
<polygon fill="#f9cf9c" points="513.0,184.0 655.4,176.0 655.4,262.0 614.3,270.0 590.0,274.0 557.0,281.0 550.0,281.0"/>
<polygon fill="#fdf3e6" points="532.0,215.0 560.0,208.0 600.0,210.0 614.3,225.0 614.3,270.0 590.0,274.0 560.0,280.0 540.0,283.0 532.0,260.0"/>
<polygon fill="#ffffff" points="497.1,193.8 513.0,190.6 557.3,279.3 541.4,279.3"/>
<polygon fill="#f9cb96" points="640.0,176.0 653.6,176.0 654.5,250.0 654.5,345.0 640.0,345.0"/>
<polygon fill="#f6ab75" points="653.6,176.0 662.7,176.0 663.6,250.0 659.0,327.0 654.5,330.0 654.5,250.0"/>
<polygon fill="#f08048" points="662.7,176.0 674.0,176.0 674.0,250.0 672.0,276.0 666.0,327.0 659.0,327.0 663.6,250.0"/>
<polygon fill="#eb6140" points="674.0,176.0 708.0,176.0 710.0,230.0 717.3,249.0 722.0,276.4 735.5,328.6 712.7,330.0 703.6,276.4 695.5,261.4 677.3,327.0 666.0,327.0 672.0,276.0 674.0,250.0"/>
<polygon fill="#ffffff" points="708.0,176.0 742.0,168.0 742.0,249.0 717.3,249.0 710.0,230.0"/>
<polygon fill="#ffffff" points="695.5,261.4 712.7,330.0 677.3,330.0"/>
<polygon fill="#f8f4ef" points="726.0,160.0 800.0,158.0 800.0,170.0 741.7,235.0 726.0,230.0"/>
<polygon fill="#e6eff9" points="731.5,155.0 780.0,155.0 760.0,180.0 745.0,205.0 731.5,200.0"/>
<polygon fill="#f9cf9c" points="741.7,235.0 800.0,170.0 812.0,165.0 812.0,244.0 741.7,248.0"/>
<polygon fill="#f6b07e" points="770.0,237.0 803.0,180.0 815.0,172.0 822.7,172.6 810.0,237.0"/>
<polygon fill="#ef7448" points="822.7,168.0 846.3,168.0 846.0,205.0 826.0,237.0 810.0,237.0"/>
<polygon fill="#e9603b" points="832.0,175.0 846.0,172.0 846.0,205.0 826.0,237.0 818.0,237.0"/>
<polygon fill="#ffffff" points="822.0,205.0 830.0,205.0 833.0,220.0 825.0,225.0"/>
<polygon fill="#ffffff" points="838.0,210.0 846.0,210.0 846.0,238.0 838.0,238.0"/>
<polygon fill="#fdf6ee" points="731.0,249.0 749.0,248.0 749.0,330.0 731.0,330.0"/>
<polygon fill="#f9cf9c" points="736.0,252.0 742.0,252.0 742.0,320.0 736.0,320.0"/>
<polygon fill="#e6eff9" points="749.0,248.0 762.7,246.0 762.7,328.0 749.0,329.0"/>
<polygon fill="#8dbde0" points="762.7,246.0 778.6,244.0 778.6,326.0 762.7,328.0"/>
<polygon fill="#f9cb96" points="778.6,244.0 803.6,241.0 806.0,326.0 790.0,326.0 778.6,300.0"/>
<polygon fill="#fdf3e6" points="847.5,158.0 891.0,158.0 891.0,254.0 847.5,254.0"/>
<polygon fill="#f9cf9c" points="856.0,158.0 878.0,158.0 868.0,195.0"/>
<polygon fill="#e6eff9" points="880.0,160.0 893.4,163.0 904.3,188.7 921.8,210.6 928.3,228.0 917.0,245.5 900.0,240.0 885.0,200.0"/>
<polygon fill="#bad4ec" points="888.0,160.0 893.4,163.0 904.3,188.7 921.8,210.6 928.3,228.0 920.0,235.0 905.0,210.0 892.0,180.0"/>
<polygon fill="#92c0e2" points="891.0,160.0 900.0,163.0 910.0,188.7 926.0,210.6 930.0,226.0 924.0,228.0 915.0,210.0 900.0,185.0"/>
<polygon fill="#3f87c6" points="893.4,160.0 1045.0,178.0 1039.8,195.3 1026.7,208.4 1009.2,204.0 996.0,215.0 978.6,217.1 974.2,232.4 928.3,228.0 921.8,210.6 904.3,188.7"/>
<polygon fill="#6aa6d6" points="925.0,221.5 974.0,221.5 974.2,232.4 960.0,241.0 930.0,245.5 922.0,236.0"/>
<polygon fill="#eb6140" points="830.0,166.0 847.5,166.0 847.5,219.0 830.0,219.0"/>
<polygon fill="#ffffff" points="832.0,214.0 846.0,214.0 846.0,240.0 832.0,240.0"/>
<polygon fill="#fbd09e" points="803.6,241.0 830.0,238.0 887.0,245.0 887.0,315.5 830.0,322.0 806.0,326.0"/>
<polygon fill="#ffffff" points="808.0,250.0 828.0,245.0 830.0,290.0 815.0,300.0"/>
<polygon fill="#f7b07c" points="863.0,254.0 913.0,254.0 913.0,311.0 880.0,311.0"/>
<polygon fill="#f58a4e" points="902.0,252.0 935.0,248.0 935.0,304.5 910.0,308.0"/>
<polygon fill="#ec603b" points="933.0,245.5 952.0,242.0 952.0,306.7 938.0,308.0"/>
<polygon fill="#f7b07c" points="950.0,239.0 972.0,235.0 960.0,298.0 950.0,305.0"/>
<polygon fill="#ffffff" points="873.7,287.0 893.4,287.0 893.4,318.0 873.7,318.0"/>
<polygon fill="#a9cbe8" points="1036.0,196.0 1055.0,167.0 1062.0,150.0 1066.0,150.0 1050.0,185.0 1040.0,205.0"/>
<polygon fill="#4a90c8" points="719.5,329.0 767.0,326.0 767.0,355.0 719.5,355.0"/>
<polygon fill="#4a90c8" points="785.5,322.0 881.0,318.0 881.0,345.0 785.5,345.0"/>
<polygon fill="#3f87c6" points="893.0,315.0 946.0,304.5 946.0,314.0 893.0,327.0"/>
</g>
<g fill="none" stroke="#262626" stroke-width="1.7" stroke-linejoin="round">
<path d="M96.7,111.8C137.2,111.9 288.1,112.5 340.0,112.5C391.9,112.5 387.2,111.2 408.0,111.8C428.8,112.4 450.6,115.4 465.0,115.9C479.4,116.4 487.7,115.2 494.5,114.8C501.3,114.3 502.6,113.2 506.0,113.2C509.4,113.2 502.2,114.0 515.0,115.0C527.8,116.0 570.2,118.9 583.0,119.3C595.8,119.7 589.2,117.2 592.0,117.5C594.8,117.8 596.9,120.2 600.0,121.0C603.1,121.8 606.5,121.3 610.5,122.3C614.5,123.3 614.2,126.0 624.0,126.8C633.8,127.6 659.2,126.8 669.5,127.3C679.8,127.8 679.8,128.6 685.5,129.5C691.2,130.4 693.0,131.8 703.6,133.0C714.2,134.2 736.5,135.5 749.0,136.4C761.5,137.3 771.0,137.3 778.6,138.6C786.2,139.9 784.3,142.9 794.5,144.3C804.7,145.7 826.9,146.8 840.0,146.9C853.1,147.0 864.5,145.4 873.0,145.1C881.5,144.8 883.5,144.6 890.7,145.1C897.9,145.6 906.3,147.4 916.0,148.2C925.7,149.0 942.2,149.2 949.0,150.0C955.8,150.8 945.2,152.4 956.6,153.2C968.0,153.9 990.3,154.2 1017.4,154.5C1044.5,154.8 1102.3,155.2 1119.3,155.3"/>
<path d="M96.7,154.1C100.3,154.4 144.6,158.1 150.0,158.5C155.4,158.9 173.6,159.8 178.0,159.8C182.4,159.8 213.0,158.8 216.5,158.0C220.0,157.2 226.7,148.0 231.2,147.3C235.7,146.6 280.3,146.5 284.6,147.7C288.9,148.9 294.3,163.1 296.0,164.8C297.7,166.5 306.7,172.1 309.6,172.7C312.5,173.3 335.2,173.7 340.0,173.9C344.8,174.1 376.5,175.8 381.0,175.7C385.5,175.6 404.0,173.5 407.0,172.7C410.0,171.9 423.3,163.1 426.0,163.6C428.7,164.1 443.9,177.6 446.8,179.5C449.7,181.4 466.0,191.2 469.5,192.0C473.0,192.8 494.8,191.6 499.0,191.0C503.2,190.4 526.9,183.3 533.0,183.0C539.1,182.7 583.8,185.9 590.0,186.0C596.2,186.1 622.6,185.7 626.4,185.2C630.2,184.7 644.2,179.0 646.8,178.4C649.4,177.8 660.8,176.3 665.0,176.1C669.2,175.9 706.6,176.4 710.5,176.1C714.4,175.8 722.3,173.3 724.0,172.3C725.7,171.3 734.3,162.4 735.5,161.4C736.7,160.4 740.5,156.8 742.3,156.8C744.1,156.8 760.0,160.7 762.7,161.0C765.4,161.3 781.0,161.5 783.0,161.8C785.0,162.1 790.9,165.2 792.0,166.0C793.1,166.8 797.9,173.0 799.0,173.9C800.1,174.8 806.8,179.2 808.0,179.5C809.2,179.8 815.9,179.2 817.0,178.4C818.1,177.6 823.1,169.0 824.0,168.2C824.9,167.4 830.1,166.3 831.0,166.4C831.9,166.5 836.8,169.0 837.7,169.3C838.6,169.6 843.2,170.6 844.0,170.5C844.8,170.4 849.3,169.0 850.0,168.4C850.7,167.8 854.3,161.6 855.2,160.8C856.1,160.0 862.8,156.1 864.0,155.8C865.2,155.5 871.2,156.4 873.0,157.0C874.8,157.6 888.7,163.9 890.7,164.6C892.7,165.3 901.5,166.5 903.4,167.2C905.3,167.9 916.4,174.4 918.6,174.8C920.8,175.2 934.1,172.8 936.3,173.0C938.5,173.2 949.0,176.8 951.5,177.3C954.0,177.8 970.7,180.5 974.3,180.6C977.9,180.7 1002.3,179.2 1004.8,179.3C1007.3,179.4 1011.2,181.7 1012.4,182.4C1013.6,183.1 1020.6,189.4 1022.5,190.0C1024.4,190.6 1038.8,191.3 1040.3,190.7C1041.8,190.1 1043.8,183.4 1045.3,181.1C1046.8,178.8 1061.6,157.9 1063.0,156.3C1064.4,154.7 1065.5,155.8 1066.9,157.8C1068.3,159.8 1081.8,183.5 1083.3,186.2C1084.8,188.9 1087.3,196.8 1089.7,197.6C1092.1,198.4 1117.3,197.6 1119.3,197.6"/>
<path d="M96.7,471.2C96.7,471.2 235.0,470.5 235.0,470.5C235.0,470.5 348.0,472.5 348.0,472.5C348.0,472.5 400.0,474.2 400.0,474.2C400.0,474.2 448.8,476.4 448.8,476.4C448.8,476.4 525.9,466.3 525.9,466.3C525.9,466.3 568.3,461.0 568.3,461.0C568.3,461.0 604.5,441.1 604.5,441.1C604.5,441.1 640.7,416.9 640.7,416.9C640.7,416.9 658.0,392.4 658.0,392.4C658.0,392.4 689.5,366.6 689.5,366.6C689.5,366.6 724.1,354.0 724.1,354.0C724.1,354.0 760.0,347.7 760.0,347.7C760.0,347.7 826.0,340.0 826.0,340.0C826.0,340.0 892.4,325.7 892.4,325.7C892.4,325.7 944.9,313.1 944.9,313.1C944.9,313.1 1000.0,298.6 1000.0,298.6C1000.0,298.6 1043.0,288.3 1043.0,288.3C1043.0,288.3 1119.3,282.6 1119.3,282.6"/>
</g>
<g fill="none" stroke="#333" stroke-width="1.4" stroke-dasharray="7.5 4.3">
<path d="M96.7,114.6C137.2,114.6 288.1,114.9 340.0,114.8C391.9,114.7 381.5,113.6 408.0,114.0C434.5,114.4 472.5,115.7 499.0,117.0C525.5,118.3 551.8,120.8 567.0,121.6C582.2,122.4 581.7,120.6 590.0,121.8C598.3,123.0 601.8,126.9 617.0,129.0C632.2,131.1 659.0,132.6 681.0,134.5C703.0,136.4 732.0,139.1 749.0,140.5C766.0,141.9 775.4,142.2 783.0,143.2C790.6,144.2 785.0,145.4 794.5,146.6C804.0,147.8 819.8,149.9 840.0,150.5C860.2,151.1 896.6,149.6 916.0,150.3C935.4,151.0 922.7,153.2 956.6,154.5C990.5,155.8 1092.2,157.2 1119.3,157.8"/>
<path d="M96.7,133.6C101.1,133.3 112.9,131.2 123.0,131.8C133.1,132.5 146.7,137.1 157.4,137.5C168.1,137.9 174.6,135.6 187.0,134.0C199.4,132.4 216.8,128.8 232.0,127.7C247.2,126.6 262.8,128.1 278.0,127.3C293.2,126.5 312.7,124.1 323.0,123.2C333.3,122.3 325.8,122.5 340.0,122.0C354.2,121.5 393.6,118.8 408.0,120.0C422.4,121.2 419.6,127.2 426.4,129.5C433.2,131.8 440.7,133.2 449.0,133.6C457.3,134.0 466.9,133.1 476.0,131.8C485.1,130.5 494.1,126.8 503.6,126.0C513.1,125.2 522.4,125.3 533.0,126.8C543.6,128.3 557.5,133.2 567.0,135.2C576.5,137.2 579.3,137.5 590.0,138.6C600.7,139.7 620.8,140.8 631.0,142.0C641.2,143.2 643.8,146.4 651.4,145.5C659.0,144.6 670.3,137.6 676.4,136.8C682.5,136.1 684.3,138.4 687.7,141.0C691.1,143.6 694.1,148.7 696.8,152.3C699.4,155.9 700.2,160.1 703.6,162.5C707.0,164.9 712.4,166.1 717.0,167.0C721.6,167.9 728.7,167.6 731.0,167.7"/>
<path d="M96.7,239.8C101.1,239.3 109.9,236.6 123.0,237.0C136.1,237.4 157.7,241.5 175.5,242.0C193.3,242.5 218.4,240.0 230.0,239.9C241.6,239.8 238.7,240.1 244.9,241.3C251.1,242.5 259.7,244.8 267.1,247.3C274.5,249.8 282.7,252.9 289.4,256.2C296.1,259.5 301.1,264.6 307.3,267.3C313.5,270.0 319.7,269.6 326.6,272.5C333.5,275.4 341.5,281.2 348.9,284.4C356.3,287.6 362.7,290.3 371.2,291.9C379.7,293.5 386.3,293.8 400.0,294.1C413.7,294.4 437.1,294.3 453.6,293.6C470.1,292.9 483.9,291.4 499.0,289.8C514.1,288.2 529.3,286.9 544.5,284.1C559.7,281.3 576.1,276.5 590.0,273.1C603.9,269.7 612.1,267.2 627.8,263.7C643.5,260.2 663.2,255.4 684.4,251.9C705.6,248.4 733.2,245.2 755.2,242.5C777.2,239.8 801.6,235.8 816.5,235.4C831.4,235.0 832.2,236.9 844.8,240.1C857.4,243.2 877.8,253.1 892.0,254.3C906.2,255.5 915.6,250.8 929.8,247.2C944.0,243.6 958.9,236.9 977.0,233.0C995.1,229.1 1014.6,226.1 1038.3,223.6C1062.0,221.1 1105.8,218.8 1119.3,217.9"/>
<path d="M96.7,384.3C133.9,384.3 269.2,384.7 319.8,384.3C370.4,383.9 365.6,382.3 400.0,382.0C434.4,381.7 496.5,383.3 525.9,382.3C555.3,381.3 563.6,379.3 576.2,376.0C588.8,372.7 592.5,366.9 601.4,362.5C610.3,358.1 618.7,353.8 629.7,349.9C640.7,346.0 653.3,341.9 667.5,338.9C681.7,335.9 699.3,333.8 714.7,332.0C730.1,330.2 741.5,329.5 760.0,327.9C778.5,326.3 803.9,324.4 826.0,322.5C848.1,320.6 872.6,319.0 892.4,316.2C912.2,313.4 933.6,308.0 944.9,305.7C956.2,303.4 948.4,306.1 960.0,302.6C971.6,299.2 997.7,289.1 1014.7,285.0C1031.7,280.9 1044.5,279.6 1061.9,277.9C1079.3,276.2 1109.7,275.2 1119.3,274.6"/>
</g>
<rect x="96.7" y="82.6" width="1022.5999999999999" height="438.15" fill="none" stroke="#1a1a1a" stroke-width="1.7"/>
<path d="M96.7,82.6v-7 M96.7,520.75v7 M145.0,82.6v-3.3 M145.0,520.75v3.3 M193.3,82.6v-7 M193.3,520.75v7 M241.6,82.6v-3.3 M241.6,520.75v3.3 M290.0,82.6v-7 M290.0,520.75v7 M338.3,82.6v-3.3 M338.3,520.75v3.3 M386.6,82.6v-7 M386.6,520.75v7 M434.9,82.6v-3.3 M434.9,520.75v3.3 M483.2,82.6v-7 M483.2,520.75v7 M531.5,82.6v-3.3 M531.5,520.75v3.3 M579.9,82.6v-7 M579.9,520.75v7 M628.2,82.6v-3.3 M628.2,520.75v3.3 M676.5,82.6v-7 M676.5,520.75v7 M724.8,82.6v-3.3 M724.8,520.75v3.3 M773.1,82.6v-7 M773.1,520.75v7 M821.4,82.6v-3.3 M821.4,520.75v3.3 M869.7,82.6v-7 M869.7,520.75v7 M918.1,82.6v-3.3 M918.1,520.75v3.3 M966.4,82.6v-7 M966.4,520.75v7 M1014.7,82.6v-3.3 M1014.7,520.75v3.3 M1063.0,82.6v-7 M1063.0,520.75v7 M1111.3,82.6v-3.3 M1111.3,520.75v3.3 M96.7,108.8h-6.5 M1119.3,108.8h6.5 M96.7,173.1h-6.5 M1119.3,173.1h6.5 M96.7,237.5h-6.5 M1119.3,237.5h6.5 M96.7,301.8h-6.5 M1119.3,301.8h6.5 M96.7,366.2h-6.5 M1119.3,366.2h6.5 M96.7,430.6h-6.5 M1119.3,430.6h6.5 M96.7,494.9h-6.5 M1119.3,494.9h6.5" stroke="#1a1a1a" stroke-width="1.6" fill="none"/>
<g font-family="Liberation Serif, serif" font-size="32" fill="#1a1a1a" text-anchor="middle" transform="scale(0.87,1)">
<text x="111.1" y="68.3">0</text>
<text x="222.2" y="68.3">30</text>
<text x="333.3" y="68.3">60</text>
<text x="444.4" y="68.3">90</text>
<text x="555.4" y="68.3">120</text>
<text x="666.5" y="68.3">150</text>
<text x="777.6" y="68.3">180</text>
<text x="888.6" y="68.3">210</text>
<text x="999.7" y="68.3">240</text>
<text x="1110.8" y="68.3">270</text>
<text x="1221.8" y="68.3">300</text>
</g>
<g font-family="Liberation Serif, serif" font-size="32" fill="#1a1a1a" text-anchor="end" transform="scale(0.87,1)">
<text x="93.8" y="118.6">0</text>
<text x="93.8" y="182.9">5</text>
<text x="93.8" y="247.3">10</text>
<text x="93.8" y="311.6">15</text>
<text x="93.8" y="376.0">20</text>
<text x="93.8" y="440.4">25</text>
<text x="93.8" y="504.7">30</text>
</g>
<text font-family="Liberation Serif, serif" font-size="27" fill="#1a1a1a" text-anchor="middle" letter-spacing="0.8" transform="translate(608,33.2) scale(0.92,1)">Distance (km)</text>
<text font-family="Liberation Serif, serif" font-size="27" fill="#1a1a1a" text-anchor="middle" letter-spacing="0.8" transform="translate(39.5,301) rotate(-90) scale(0.92,1)">Depth (km)</text>
<text font-family="Liberation Serif, serif" font-size="35" fill="#1a1a1a" x="109.5" y="516.2">b</text>
<rect x="867.7" y="444.8" width="232.9" height="14.2" fill="url(#gradb)" stroke="#1e1e1e" stroke-width="1.9"/>
<path d="M867.7,459v7 M896.8,459v4 M925.9,459v7 M955.0,459v4 M984.2,459v7 M1013.3,459v4 M1042.4,459v7 M1071.5,459v4 M1100.6,459v7" stroke="#1a1a1a" stroke-width="1.5" fill="none"/>
<g font-family="Liberation Serif, serif" font-size="30" fill="#1a1a1a" text-anchor="middle" letter-spacing="-0.8" transform="scale(0.87,1)">
<text x="997.4" y="488.3">-0.03</text>
<text x="1131.2" y="488.3">0</text>
<text x="1259.8" y="488.3">0.03</text>
</g>
<text font-family="Liberation Serif, serif" font-size="26.5" fill="#3a3a3a" text-anchor="middle" letter-spacing="0.6" x="984.8" y="431.8">ΔVp/Vs</text></g>
</svg></body></html>
